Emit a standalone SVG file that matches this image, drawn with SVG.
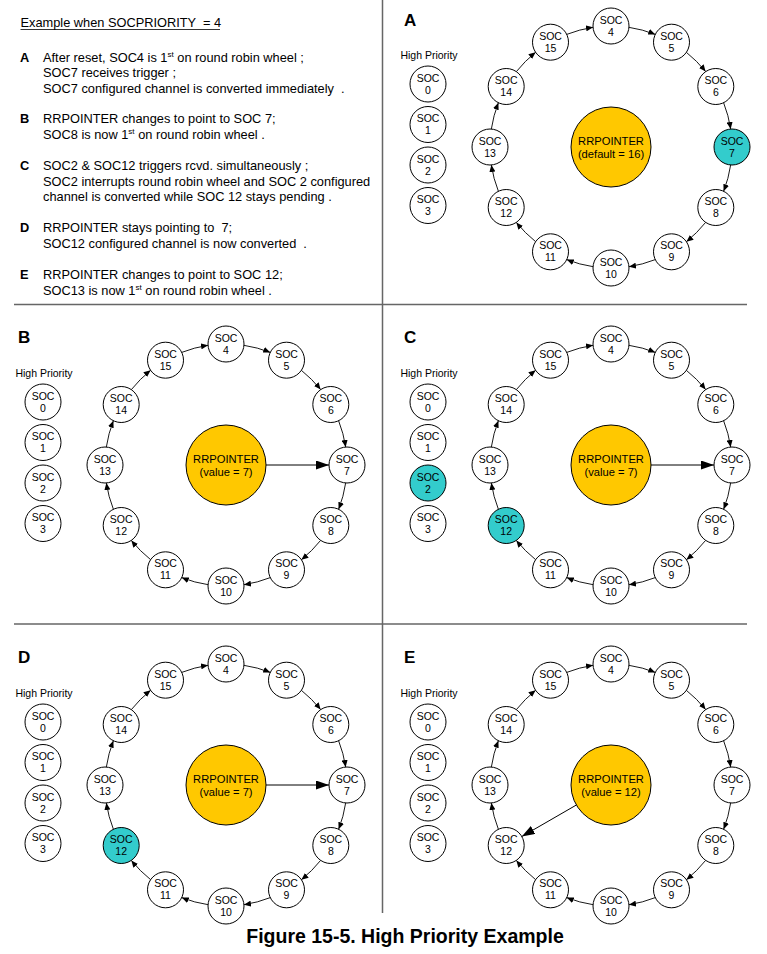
<svg xmlns="http://www.w3.org/2000/svg" width="767" height="954" viewBox="0 0 767 954">
<style>
.nd{fill:#fff;stroke:#000;stroke-width:1}
.hl{fill:#33CCCC}
.rr{fill:#FFC800;stroke:#000;stroke-width:1}
.nt{font-family:"Liberation Sans",Arial,sans-serif;font-size:10.5px;text-anchor:middle;fill:#000}
.rt{font-family:"Liberation Sans",Arial,sans-serif;font-size:11.2px;text-anchor:middle;fill:#000}
.hp{font-family:"Liberation Sans",Arial,sans-serif;font-size:10.5px;text-anchor:middle;fill:#000}
.lb{font-family:"Liberation Sans",Arial,sans-serif;font-size:17px;font-weight:bold;fill:#000}
.cn path{fill:none;stroke:#000;stroke-width:0.9;marker-end:url(#ah)}
.pa{stroke:#000;stroke-width:1;marker-end:url(#bh)}
.dv{stroke:#666;stroke-width:1.5}
.bt{font-family:"Liberation Sans",Arial,sans-serif;font-size:12.8px;fill:#000;white-space:pre}
.bl{font-family:"Liberation Sans",Arial,sans-serif;font-size:12.8px;font-weight:bold;fill:#000}
.sp{font-size:8px}
.ti{font-family:"Liberation Sans",Arial,sans-serif;font-size:19.5px;font-weight:bold;text-anchor:middle;fill:#000}
</style>
<defs>
<marker id="ah" markerWidth="7" markerHeight="6" refX="7" refY="3" orient="auto" markerUnits="userSpaceOnUse"><path d="M0,0 L7,3 L0,6 z" fill="#000"/></marker>
<marker id="bh" markerWidth="13" markerHeight="9" refX="13" refY="4.5" orient="auto" markerUnits="userSpaceOnUse"><path d="M0,0 L13,4.5 L0,9 z" fill="#000"/></marker>
</defs>

<g id="dividers">
<line class="dv" x1="382.5" y1="0" x2="382.5" y2="913"/>
<line class="dv" x1="14" y1="304.5" x2="747" y2="304.5"/>
<line class="dv" x1="14" y1="624" x2="747" y2="624"/>
</g>

<g id="description" xml:space="preserve">
<text class="bt" x="20.5" y="27">Example when SOCPRIORITY  = 4</text>
<line x1="20.5" y1="29.5" x2="220" y2="29.5" stroke="#000" stroke-width="0.8"/>
<text class="bl" x="20" y="61.5">A</text>
<text class="bt" x="43" y="61.5">After reset, SOC4 is 1<tspan class="sp" dy="-5">st</tspan><tspan dy="5"> on round robin wheel ;</tspan></text>
<text class="bt" x="43" y="77">SOC7 receives trigger ;</text>
<text class="bt" x="43" y="92.5">SOC7 configured channel is converted immediately  .</text>
<text class="bl" x="20" y="123">B</text>
<text class="bt" x="43" y="123">RRPOINTER changes to point to SOC 7;</text>
<text class="bt" x="43" y="138.5">SOC8 is now 1<tspan class="sp" dy="-5">st</tspan><tspan dy="5"> on round robin wheel .</tspan></text>
<text class="bl" x="20" y="170">C</text>
<text class="bt" x="43" y="170">SOC2 &amp; SOC12 triggers rcvd. simultaneously ;</text>
<text class="bt" x="43" y="185.5">SOC2 interrupts round robin wheel and SOC 2 configured</text>
<text class="bt" x="43" y="201">channel is converted while SOC 12 stays pending .</text>
<text class="bl" x="20" y="232">D</text>
<text class="bt" x="43" y="232">RRPOINTER stays pointing to  7;</text>
<text class="bt" x="43" y="247.5">SOC12 configured channel is now converted  .</text>
<text class="bl" x="20" y="279">E</text>
<text class="bt" x="43" y="279">RRPOINTER changes to point to SOC 12;</text>
<text class="bt" x="43" y="294.5">SOC13 is now 1<tspan class="sp" dy="-5">st</tspan><tspan dy="5"> on round robin wheel .</tspan></text>
</g>

<!-- Panel A -->
<g id="panelA" transform="translate(611,147)">
<text class="lb" x="-207" y="-121">A</text>
<text class="hp" x="-182" y="-88">High Priority</text>
<g id="A-soc0" transform="translate(-183,-63)"><circle class="nd" r="18"/><text class="nt" y="-2.5">SOC</text><text class="nt" y="9.5">0</text></g>
<g id="A-soc1" transform="translate(-183,-22.5)"><circle class="nd" r="18"/><text class="nt" y="-2.5">SOC</text><text class="nt" y="9.5">1</text></g>
<g id="A-soc2" transform="translate(-183,18)"><circle class="nd" r="18"/><text class="nt" y="-2.5">SOC</text><text class="nt" y="9.5">2</text></g>
<g id="A-soc3" transform="translate(-183,58.5)"><circle class="nd" r="18"/><text class="nt" y="-2.5">SOC</text><text class="nt" y="9.5">3</text></g>
<g id="A-rrpointer"><circle class="rr" r="40"/><text class="rt" y="-2">RRPOINTER</text><text class="rt" y="11">(default = 16)</text></g>
<g id="A-soc4" transform="translate(0,-121)"><circle class="nd" r="18"/><text class="nt" y="-2.5">SOC</text><text class="nt" y="9.5">4</text></g>
<g id="A-soc5" transform="translate(60.5,-104.8)"><circle class="nd" r="18"/><text class="nt" y="-2.5">SOC</text><text class="nt" y="9.5">5</text></g>
<g id="A-soc6" transform="translate(104.8,-60.5)"><circle class="nd" r="18"/><text class="nt" y="-2.5">SOC</text><text class="nt" y="9.5">6</text></g>
<g id="A-soc7" transform="translate(121,0)"><circle class="nd hl" r="18"/><text class="nt" y="-2.5">SOC</text><text class="nt" y="9.5">7</text></g>
<g id="A-soc8" transform="translate(104.8,60.5)"><circle class="nd" r="18"/><text class="nt" y="-2.5">SOC</text><text class="nt" y="9.5">8</text></g>
<g id="A-soc9" transform="translate(60.5,104.8)"><circle class="nd" r="18"/><text class="nt" y="-2.5">SOC</text><text class="nt" y="9.5">9</text></g>
<g id="A-soc10" transform="translate(0,121)"><circle class="nd" r="18"/><text class="nt" y="-2.5">SOC</text><text class="nt" y="9.5">10</text></g>
<g id="A-soc11" transform="translate(-60.5,104.8)"><circle class="nd" r="18"/><text class="nt" y="-2.5">SOC</text><text class="nt" y="9.5">11</text></g>
<g id="A-soc12" transform="translate(-104.8,60.5)"><circle class="nd" r="18"/><text class="nt" y="-2.5">SOC</text><text class="nt" y="9.5">12</text></g>
<g id="A-soc13" transform="translate(-121,0)"><circle class="nd" r="18"/><text class="nt" y="-2.5">SOC</text><text class="nt" y="9.5">13</text></g>
<g id="A-soc14" transform="translate(-104.8,-60.5)"><circle class="nd" r="18"/><text class="nt" y="-2.5">SOC</text><text class="nt" y="9.5">14</text></g>
<g id="A-soc15" transform="translate(-60.5,-104.8)"><circle class="nd" r="18"/><text class="nt" y="-2.5">SOC</text><text class="nt" y="9.5">15</text></g>
<g id="A-connectors" class="cn">
<path d="M17.95,-119.66 A121,121 0 0 1 44.29,-112.6"/>
<path d="M75.36,-94.67 A121,121 0 0 1 94.63,-75.38"/>
<path d="M112.6,-44.29 A121,121 0 0 1 119.66,-17.95"/>
<path d="M119.66,17.95 A121,121 0 0 1 112.6,44.29"/>
<path d="M94.63,75.38 A121,121 0 0 1 75.36,94.67"/>
<path d="M44.29,112.6 A121,121 0 0 1 17.95,119.66"/>
<path d="M-17.95,119.66 A121,121 0 0 1 -44.29,112.6"/>
<path d="M-75.36,94.67 A121,121 0 0 1 -94.63,75.38"/>
<path d="M-112.6,44.29 A121,121 0 0 1 -119.66,17.95"/>
<path d="M-119.66,-17.95 A121,121 0 0 1 -112.6,-44.29"/>
<path d="M-94.63,-75.38 A121,121 0 0 1 -75.36,-94.67"/>
<path d="M-44.29,-112.6 A121,121 0 0 1 -17.95,-119.66"/>
</g>
</g>

<!-- Panel B -->
<g id="panelB" transform="translate(226,465)">
<text class="lb" x="-208" y="-122">B</text>
<text class="hp" x="-182" y="-88">High Priority</text>
<g id="B-soc0" transform="translate(-183,-63)"><circle class="nd" r="18"/><text class="nt" y="-2.5">SOC</text><text class="nt" y="9.5">0</text></g>
<g id="B-soc1" transform="translate(-183,-22.5)"><circle class="nd" r="18"/><text class="nt" y="-2.5">SOC</text><text class="nt" y="9.5">1</text></g>
<g id="B-soc2" transform="translate(-183,18)"><circle class="nd" r="18"/><text class="nt" y="-2.5">SOC</text><text class="nt" y="9.5">2</text></g>
<g id="B-soc3" transform="translate(-183,58.5)"><circle class="nd" r="18"/><text class="nt" y="-2.5">SOC</text><text class="nt" y="9.5">3</text></g>
<g id="B-rrpointer"><circle class="rr" r="40"/><text class="rt" y="-2">RRPOINTER</text><text class="rt" y="11">(value = 7)</text></g>
<g id="B-soc4" transform="translate(0,-121)"><circle class="nd" r="18"/><text class="nt" y="-2.5">SOC</text><text class="nt" y="9.5">4</text></g>
<g id="B-soc5" transform="translate(60.5,-104.8)"><circle class="nd" r="18"/><text class="nt" y="-2.5">SOC</text><text class="nt" y="9.5">5</text></g>
<g id="B-soc6" transform="translate(104.8,-60.5)"><circle class="nd" r="18"/><text class="nt" y="-2.5">SOC</text><text class="nt" y="9.5">6</text></g>
<g id="B-soc7" transform="translate(121,0)"><circle class="nd" r="18"/><text class="nt" y="-2.5">SOC</text><text class="nt" y="9.5">7</text></g>
<g id="B-soc8" transform="translate(104.8,60.5)"><circle class="nd" r="18"/><text class="nt" y="-2.5">SOC</text><text class="nt" y="9.5">8</text></g>
<g id="B-soc9" transform="translate(60.5,104.8)"><circle class="nd" r="18"/><text class="nt" y="-2.5">SOC</text><text class="nt" y="9.5">9</text></g>
<g id="B-soc10" transform="translate(0,121)"><circle class="nd" r="18"/><text class="nt" y="-2.5">SOC</text><text class="nt" y="9.5">10</text></g>
<g id="B-soc11" transform="translate(-60.5,104.8)"><circle class="nd" r="18"/><text class="nt" y="-2.5">SOC</text><text class="nt" y="9.5">11</text></g>
<g id="B-soc12" transform="translate(-104.8,60.5)"><circle class="nd" r="18"/><text class="nt" y="-2.5">SOC</text><text class="nt" y="9.5">12</text></g>
<g id="B-soc13" transform="translate(-121,0)"><circle class="nd" r="18"/><text class="nt" y="-2.5">SOC</text><text class="nt" y="9.5">13</text></g>
<g id="B-soc14" transform="translate(-104.8,-60.5)"><circle class="nd" r="18"/><text class="nt" y="-2.5">SOC</text><text class="nt" y="9.5">14</text></g>
<g id="B-soc15" transform="translate(-60.5,-104.8)"><circle class="nd" r="18"/><text class="nt" y="-2.5">SOC</text><text class="nt" y="9.5">15</text></g>
<g id="B-connectors" class="cn">
<path d="M17.95,-119.66 A121,121 0 0 1 44.29,-112.6"/>
<path d="M75.36,-94.67 A121,121 0 0 1 94.63,-75.38"/>
<path d="M112.6,-44.29 A121,121 0 0 1 119.66,-17.95"/>
<path d="M119.66,17.95 A121,121 0 0 1 112.6,44.29"/>
<path d="M94.63,75.38 A121,121 0 0 1 75.36,94.67"/>
<path d="M44.29,112.6 A121,121 0 0 1 17.95,119.66"/>
<path d="M-17.95,119.66 A121,121 0 0 1 -44.29,112.6"/>
<path d="M-75.36,94.67 A121,121 0 0 1 -94.63,75.38"/>
<path d="M-112.6,44.29 A121,121 0 0 1 -119.66,17.95"/>
<path d="M-119.66,-17.95 A121,121 0 0 1 -112.6,-44.29"/>
<path d="M-94.63,-75.38 A121,121 0 0 1 -75.36,-94.67"/>
<path d="M-44.29,-112.6 A121,121 0 0 1 -17.95,-119.66"/>
<line class="pa" x1="40" y1="0" x2="103" y2="0"/>
</g>
</g>

<!-- Panel C -->
<g id="panelC" transform="translate(611,465)">
<text class="lb" x="-207" y="-122">C</text>
<text class="hp" x="-182" y="-88">High Priority</text>
<g id="C-soc0" transform="translate(-183,-63)"><circle class="nd" r="18"/><text class="nt" y="-2.5">SOC</text><text class="nt" y="9.5">0</text></g>
<g id="C-soc1" transform="translate(-183,-22.5)"><circle class="nd" r="18"/><text class="nt" y="-2.5">SOC</text><text class="nt" y="9.5">1</text></g>
<g id="C-soc2" transform="translate(-183,18)"><circle class="nd hl" r="18"/><text class="nt" y="-2.5">SOC</text><text class="nt" y="9.5">2</text></g>
<g id="C-soc3" transform="translate(-183,58.5)"><circle class="nd" r="18"/><text class="nt" y="-2.5">SOC</text><text class="nt" y="9.5">3</text></g>
<g id="C-rrpointer"><circle class="rr" r="40"/><text class="rt" y="-2">RRPOINTER</text><text class="rt" y="11">(value = 7)</text></g>
<g id="C-soc4" transform="translate(0,-121)"><circle class="nd" r="18"/><text class="nt" y="-2.5">SOC</text><text class="nt" y="9.5">4</text></g>
<g id="C-soc5" transform="translate(60.5,-104.8)"><circle class="nd" r="18"/><text class="nt" y="-2.5">SOC</text><text class="nt" y="9.5">5</text></g>
<g id="C-soc6" transform="translate(104.8,-60.5)"><circle class="nd" r="18"/><text class="nt" y="-2.5">SOC</text><text class="nt" y="9.5">6</text></g>
<g id="C-soc7" transform="translate(121,0)"><circle class="nd" r="18"/><text class="nt" y="-2.5">SOC</text><text class="nt" y="9.5">7</text></g>
<g id="C-soc8" transform="translate(104.8,60.5)"><circle class="nd" r="18"/><text class="nt" y="-2.5">SOC</text><text class="nt" y="9.5">8</text></g>
<g id="C-soc9" transform="translate(60.5,104.8)"><circle class="nd" r="18"/><text class="nt" y="-2.5">SOC</text><text class="nt" y="9.5">9</text></g>
<g id="C-soc10" transform="translate(0,121)"><circle class="nd" r="18"/><text class="nt" y="-2.5">SOC</text><text class="nt" y="9.5">10</text></g>
<g id="C-soc11" transform="translate(-60.5,104.8)"><circle class="nd" r="18"/><text class="nt" y="-2.5">SOC</text><text class="nt" y="9.5">11</text></g>
<g id="C-soc12" transform="translate(-104.8,60.5)"><circle class="nd hl" r="18"/><text class="nt" y="-2.5">SOC</text><text class="nt" y="9.5">12</text></g>
<g id="C-soc13" transform="translate(-121,0)"><circle class="nd" r="18"/><text class="nt" y="-2.5">SOC</text><text class="nt" y="9.5">13</text></g>
<g id="C-soc14" transform="translate(-104.8,-60.5)"><circle class="nd" r="18"/><text class="nt" y="-2.5">SOC</text><text class="nt" y="9.5">14</text></g>
<g id="C-soc15" transform="translate(-60.5,-104.8)"><circle class="nd" r="18"/><text class="nt" y="-2.5">SOC</text><text class="nt" y="9.5">15</text></g>
<g id="C-connectors" class="cn">
<path d="M17.95,-119.66 A121,121 0 0 1 44.29,-112.6"/>
<path d="M75.36,-94.67 A121,121 0 0 1 94.63,-75.38"/>
<path d="M112.6,-44.29 A121,121 0 0 1 119.66,-17.95"/>
<path d="M119.66,17.95 A121,121 0 0 1 112.6,44.29"/>
<path d="M94.63,75.38 A121,121 0 0 1 75.36,94.67"/>
<path d="M44.29,112.6 A121,121 0 0 1 17.95,119.66"/>
<path d="M-17.95,119.66 A121,121 0 0 1 -44.29,112.6"/>
<path d="M-75.36,94.67 A121,121 0 0 1 -94.63,75.38"/>
<path d="M-112.6,44.29 A121,121 0 0 1 -119.66,17.95"/>
<path d="M-119.66,-17.95 A121,121 0 0 1 -112.6,-44.29"/>
<path d="M-94.63,-75.38 A121,121 0 0 1 -75.36,-94.67"/>
<path d="M-44.29,-112.6 A121,121 0 0 1 -17.95,-119.66"/>
<line class="pa" x1="40" y1="0" x2="103" y2="0"/>
</g>
</g>

<!-- Panel D -->
<g id="panelD" transform="translate(226,785)">
<text class="lb" x="-208" y="-122">D</text>
<text class="hp" x="-182" y="-88">High Priority</text>
<g id="D-soc0" transform="translate(-183,-63)"><circle class="nd" r="18"/><text class="nt" y="-2.5">SOC</text><text class="nt" y="9.5">0</text></g>
<g id="D-soc1" transform="translate(-183,-22.5)"><circle class="nd" r="18"/><text class="nt" y="-2.5">SOC</text><text class="nt" y="9.5">1</text></g>
<g id="D-soc2" transform="translate(-183,18)"><circle class="nd" r="18"/><text class="nt" y="-2.5">SOC</text><text class="nt" y="9.5">2</text></g>
<g id="D-soc3" transform="translate(-183,58.5)"><circle class="nd" r="18"/><text class="nt" y="-2.5">SOC</text><text class="nt" y="9.5">3</text></g>
<g id="D-rrpointer"><circle class="rr" r="40"/><text class="rt" y="-2">RRPOINTER</text><text class="rt" y="11">(value = 7)</text></g>
<g id="D-soc4" transform="translate(0,-121)"><circle class="nd" r="18"/><text class="nt" y="-2.5">SOC</text><text class="nt" y="9.5">4</text></g>
<g id="D-soc5" transform="translate(60.5,-104.8)"><circle class="nd" r="18"/><text class="nt" y="-2.5">SOC</text><text class="nt" y="9.5">5</text></g>
<g id="D-soc6" transform="translate(104.8,-60.5)"><circle class="nd" r="18"/><text class="nt" y="-2.5">SOC</text><text class="nt" y="9.5">6</text></g>
<g id="D-soc7" transform="translate(121,0)"><circle class="nd" r="18"/><text class="nt" y="-2.5">SOC</text><text class="nt" y="9.5">7</text></g>
<g id="D-soc8" transform="translate(104.8,60.5)"><circle class="nd" r="18"/><text class="nt" y="-2.5">SOC</text><text class="nt" y="9.5">8</text></g>
<g id="D-soc9" transform="translate(60.5,104.8)"><circle class="nd" r="18"/><text class="nt" y="-2.5">SOC</text><text class="nt" y="9.5">9</text></g>
<g id="D-soc10" transform="translate(0,121)"><circle class="nd" r="18"/><text class="nt" y="-2.5">SOC</text><text class="nt" y="9.5">10</text></g>
<g id="D-soc11" transform="translate(-60.5,104.8)"><circle class="nd" r="18"/><text class="nt" y="-2.5">SOC</text><text class="nt" y="9.5">11</text></g>
<g id="D-soc12" transform="translate(-104.8,60.5)"><circle class="nd hl" r="18"/><text class="nt" y="-2.5">SOC</text><text class="nt" y="9.5">12</text></g>
<g id="D-soc13" transform="translate(-121,0)"><circle class="nd" r="18"/><text class="nt" y="-2.5">SOC</text><text class="nt" y="9.5">13</text></g>
<g id="D-soc14" transform="translate(-104.8,-60.5)"><circle class="nd" r="18"/><text class="nt" y="-2.5">SOC</text><text class="nt" y="9.5">14</text></g>
<g id="D-soc15" transform="translate(-60.5,-104.8)"><circle class="nd" r="18"/><text class="nt" y="-2.5">SOC</text><text class="nt" y="9.5">15</text></g>
<g id="D-connectors" class="cn">
<path d="M17.95,-119.66 A121,121 0 0 1 44.29,-112.6"/>
<path d="M75.36,-94.67 A121,121 0 0 1 94.63,-75.38"/>
<path d="M112.6,-44.29 A121,121 0 0 1 119.66,-17.95"/>
<path d="M119.66,17.95 A121,121 0 0 1 112.6,44.29"/>
<path d="M94.63,75.38 A121,121 0 0 1 75.36,94.67"/>
<path d="M44.29,112.6 A121,121 0 0 1 17.95,119.66"/>
<path d="M-17.95,119.66 A121,121 0 0 1 -44.29,112.6"/>
<path d="M-75.36,94.67 A121,121 0 0 1 -94.63,75.38"/>
<path d="M-112.6,44.29 A121,121 0 0 1 -119.66,17.95"/>
<path d="M-119.66,-17.95 A121,121 0 0 1 -112.6,-44.29"/>
<path d="M-94.63,-75.38 A121,121 0 0 1 -75.36,-94.67"/>
<path d="M-44.29,-112.6 A121,121 0 0 1 -17.95,-119.66"/>
<line class="pa" x1="40" y1="0" x2="103" y2="0"/>
</g>
</g>

<!-- Panel E -->
<g id="panelE" transform="translate(611,785)">
<text class="lb" x="-207" y="-122">E</text>
<text class="hp" x="-182" y="-88">High Priority</text>
<g id="E-soc0" transform="translate(-183,-63)"><circle class="nd" r="18"/><text class="nt" y="-2.5">SOC</text><text class="nt" y="9.5">0</text></g>
<g id="E-soc1" transform="translate(-183,-22.5)"><circle class="nd" r="18"/><text class="nt" y="-2.5">SOC</text><text class="nt" y="9.5">1</text></g>
<g id="E-soc2" transform="translate(-183,18)"><circle class="nd" r="18"/><text class="nt" y="-2.5">SOC</text><text class="nt" y="9.5">2</text></g>
<g id="E-soc3" transform="translate(-183,58.5)"><circle class="nd" r="18"/><text class="nt" y="-2.5">SOC</text><text class="nt" y="9.5">3</text></g>
<g id="E-rrpointer"><circle class="rr" r="40"/><text class="rt" y="-2">RRPOINTER</text><text class="rt" y="11">(value = 12)</text></g>
<g id="E-soc4" transform="translate(0,-121)"><circle class="nd" r="18"/><text class="nt" y="-2.5">SOC</text><text class="nt" y="9.5">4</text></g>
<g id="E-soc5" transform="translate(60.5,-104.8)"><circle class="nd" r="18"/><text class="nt" y="-2.5">SOC</text><text class="nt" y="9.5">5</text></g>
<g id="E-soc6" transform="translate(104.8,-60.5)"><circle class="nd" r="18"/><text class="nt" y="-2.5">SOC</text><text class="nt" y="9.5">6</text></g>
<g id="E-soc7" transform="translate(121,0)"><circle class="nd" r="18"/><text class="nt" y="-2.5">SOC</text><text class="nt" y="9.5">7</text></g>
<g id="E-soc8" transform="translate(104.8,60.5)"><circle class="nd" r="18"/><text class="nt" y="-2.5">SOC</text><text class="nt" y="9.5">8</text></g>
<g id="E-soc9" transform="translate(60.5,104.8)"><circle class="nd" r="18"/><text class="nt" y="-2.5">SOC</text><text class="nt" y="9.5">9</text></g>
<g id="E-soc10" transform="translate(0,121)"><circle class="nd" r="18"/><text class="nt" y="-2.5">SOC</text><text class="nt" y="9.5">10</text></g>
<g id="E-soc11" transform="translate(-60.5,104.8)"><circle class="nd" r="18"/><text class="nt" y="-2.5">SOC</text><text class="nt" y="9.5">11</text></g>
<g id="E-soc12" transform="translate(-104.8,60.5)"><circle class="nd" r="18"/><text class="nt" y="-2.5">SOC</text><text class="nt" y="9.5">12</text></g>
<g id="E-soc13" transform="translate(-121,0)"><circle class="nd" r="18"/><text class="nt" y="-2.5">SOC</text><text class="nt" y="9.5">13</text></g>
<g id="E-soc14" transform="translate(-104.8,-60.5)"><circle class="nd" r="18"/><text class="nt" y="-2.5">SOC</text><text class="nt" y="9.5">14</text></g>
<g id="E-soc15" transform="translate(-60.5,-104.8)"><circle class="nd" r="18"/><text class="nt" y="-2.5">SOC</text><text class="nt" y="9.5">15</text></g>
<g id="E-connectors" class="cn">
<path d="M17.95,-119.66 A121,121 0 0 1 44.29,-112.6"/>
<path d="M75.36,-94.67 A121,121 0 0 1 94.63,-75.38"/>
<path d="M112.6,-44.29 A121,121 0 0 1 119.66,-17.95"/>
<path d="M119.66,17.95 A121,121 0 0 1 112.6,44.29"/>
<path d="M94.63,75.38 A121,121 0 0 1 75.36,94.67"/>
<path d="M44.29,112.6 A121,121 0 0 1 17.95,119.66"/>
<path d="M-17.95,119.66 A121,121 0 0 1 -44.29,112.6"/>
<path d="M-75.36,94.67 A121,121 0 0 1 -94.63,75.38"/>
<path d="M-112.6,44.29 A121,121 0 0 1 -119.66,17.95"/>
<path d="M-119.66,-17.95 A121,121 0 0 1 -112.6,-44.29"/>
<path d="M-94.63,-75.38 A121,121 0 0 1 -75.36,-94.67"/>
<path d="M-44.29,-112.6 A121,121 0 0 1 -17.95,-119.66"/>
<line class="pa" x1="-34.64" y1="20" x2="-89.2" y2="51.5"/>
</g>
</g>

<text id="caption" class="ti" x="405" y="943">Figure 15-5. High Priority Example</text>
</svg>
